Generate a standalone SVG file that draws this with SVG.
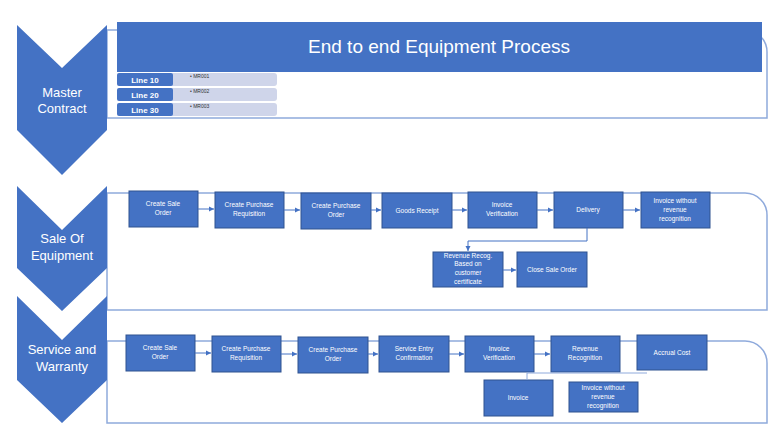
<svg xmlns="http://www.w3.org/2000/svg" width="768" height="433" viewBox="0 0 768 433">
<style>
.ch{fill:#4472c4}
.lane{fill:none;stroke:#8faadc;stroke-width:1.5}
.b rect{fill:#4472c4;stroke:#2f528f;stroke-width:1}
.b text{fill:#fff;font-family:"Liberation Sans",Arial,sans-serif;font-size:6.5px;text-anchor:middle}
.cl{font-family:"Liberation Sans",Arial,sans-serif;font-size:13px;fill:#fff;text-anchor:middle}
.c{stroke:#4472c4;stroke-width:1;fill:none;marker-end:url(#a)}
.lb rect.l{fill:#4472c4}
.lb rect.r{fill:#cfd5ea}
.lb text.l{fill:#fff;font-family:"Liberation Sans",Arial,sans-serif;font-size:8px;font-weight:bold;text-anchor:middle}
.lb text.r{fill:#333;font-family:"Liberation Sans",Arial,sans-serif;font-size:5px}
</style>
<defs><marker id="a" markerWidth="6" markerHeight="6" refX="5" refY="3" orient="auto"><path d="M0,0.5L5,3L0,5.5z" fill="#4472c4"/></marker></defs>
<rect width="768" height="433" fill="#fff"/>
<g id="lanes">
<path class="lane" d="M107,30H745a22,22 0 0 1 22,22V118H107z"/>
<path class="lane" d="M107,193H745a22,22 0 0 1 22,22V310H107z"/>
<path class="lane" d="M107,341H745a22,22 0 0 1 22,22V423H107z"/>
</g>
<g id="master">
<path class="ch" d="M17,25L62,68L107,25V130L62,175L17,130z"/>
<text class="cl" x="62" y="97">Master</text><text class="cl" x="62" y="113">Contract</text>
</g>
<g id="sale">
<path class="ch" d="M17,186L62,230L107,186V268L62,311L17,268z"/>
<text class="cl" x="62" y="243">Sale Of</text><text class="cl" x="62" y="260">Equipment</text>
</g>
<g id="service">
<path class="ch" d="M17,296L62,340L107,296V380L62,423L17,380z"/>
<text class="cl" x="62" y="354">Service and</text><text class="cl" x="62" y="371">Warranty</text>
</g>
<g id="title">
<rect x="117" y="22" width="645" height="50" fill="#4472c4"/>
<text x="439" y="53" font-family="Liberation Sans,Arial,sans-serif" font-size="19" fill="#fff" text-anchor="middle">End to end Equipment Process</text>
</g>
<g id="lines" class="lb">
<rect class="r" x="170" y="73" width="107" height="13" rx="3"/><rect class="l" x="117" y="73" width="56" height="13" rx="2"/>
<text class="l" x="145" y="83">Line 10</text><text class="r" x="190" y="78">• MR001</text>
<rect class="r" x="170" y="88" width="107" height="13" rx="3"/><rect class="l" x="117" y="88" width="56" height="13" rx="2"/>
<text class="l" x="145" y="98">Line 20</text><text class="r" x="190" y="93">• MR002</text>
<rect class="r" x="170" y="103" width="107" height="13" rx="3"/><rect class="l" x="117" y="103" width="56" height="13" rx="2"/>
<text class="l" x="145" y="113">Line 30</text><text class="r" x="190" y="108">• MR003</text>
</g>
<g id="s1" class="b"><rect x="129" y="191" width="69" height="36"/><text x="163" y="206">Create Sale</text><text x="163" y="215">Order</text></g>
<g id="s2" class="b"><rect x="215" y="192" width="69" height="36"/><text x="249" y="207">Create Purchase</text><text x="249" y="216">Requisition</text></g>
<g id="s3" class="b"><rect x="301" y="193" width="70" height="36"/><text x="336" y="208">Create Purchase</text><text x="336" y="217">Order</text></g>
<g id="s4" class="b"><rect x="382" y="193" width="70" height="35"/><text x="417" y="213">Goods Receipt</text></g>
<g id="s5" class="b"><rect x="468" y="192" width="69" height="36"/><text x="502" y="207">Invoice</text><text x="502" y="216">Verification</text></g>
<g id="s6" class="b"><rect x="554" y="192" width="69" height="36"/><text x="588" y="212">Delivery</text></g>
<g id="s7" class="b"><rect x="641" y="192" width="69" height="36"/><text x="675" y="203">Invoice without</text><text x="675" y="212">revenue</text><text x="675" y="221">recognition</text></g>
<g id="s8" class="b"><rect x="433" y="252" width="70" height="35"/><text x="468" y="258">Revenue Recog.</text><text x="468" y="266">Based on</text><text x="468" y="275">customer</text><text x="468" y="284">certificate</text></g>
<g id="s9" class="b"><rect x="517" y="252" width="70" height="35"/><text x="552" y="272">Close Sale Order</text></g>
<g id="w1" class="b"><rect x="126" y="335" width="69" height="36"/><text x="160" y="350">Create Sale</text><text x="160" y="359">Order</text></g>
<g id="w2" class="b"><rect x="212" y="336" width="69" height="36"/><text x="246" y="351">Create Purchase</text><text x="246" y="360">Requisition</text></g>
<g id="w3" class="b"><rect x="298" y="337" width="70" height="36"/><text x="333" y="352">Create Purchase</text><text x="333" y="361">Order</text></g>
<g id="w4" class="b"><rect x="379" y="336" width="70" height="36"/><text x="414" y="351">Service Entry</text><text x="414" y="360">Confirmation</text></g>
<g id="w5" class="b"><rect x="465" y="336" width="69" height="36"/><text x="499" y="351">Invoice</text><text x="499" y="360">Verification</text></g>
<g id="w6" class="b"><rect x="551" y="336" width="69" height="36"/><text x="585" y="351">Revenue</text><text x="585" y="360">Recognition</text></g>
<g id="w7" class="b"><rect x="637" y="335" width="70" height="35"/><text x="672" y="355">Accrual Cost</text></g>
<g id="w8" class="b"><rect x="484" y="380" width="69" height="36"/><text x="518" y="400">Invoice</text></g>
<g id="w9" class="b"><rect x="569" y="382" width="69" height="30"/><text x="603" y="390">Invoice without</text><text x="603" y="399">revenue</text><text x="603" y="408">recognition</text></g>
<g id="connectors">
<path class="c" d="M198,209H214"/>
<path class="c" d="M284,210H300"/>
<path class="c" d="M371,210H381"/>
<path class="c" d="M452,210H467"/>
<path class="c" d="M537,210H553"/>
<path class="c" d="M623,210H640"/>
<path class="c" d="M587,228V241H468V251"/>
<path class="c" d="M503,270H516"/>
<path class="c" d="M195,353H211"/>
<path class="c" d="M281,354H297"/>
<path class="c" d="M368,354H378"/>
<path class="c" d="M449,354H464"/>
<path class="c" d="M534,354H550"/>
<path d="M647,373H527V380" stroke="#8faadc" fill="none"/>
</g>
</svg>
